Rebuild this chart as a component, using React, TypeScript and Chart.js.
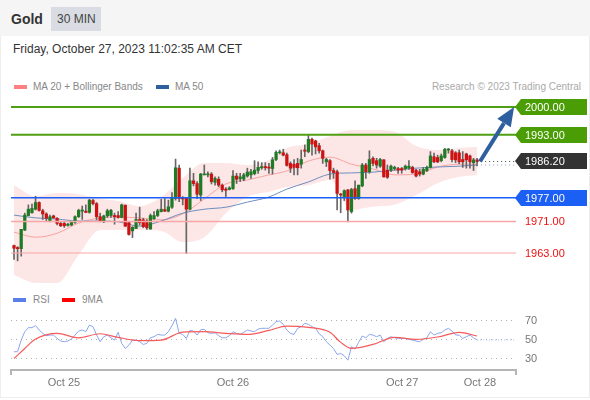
import React, { useEffect, useRef } from "react";
import { Chart, registerables } from "chart.js";

Chart.register(...registerables);

const opens = [
  1964.9, 1964.4, 1964.1, 1968.8, 1972.5, 1973.2, 1974.1, 1975.8, 1973.7, 1972.9,
  1971.2, 1972.4, 1971.8, 1970.5, 1970.5, 1970.0, 1970.1, 1970.8, 1972.2, 1973.6,
  1973.6, 1973.3, 1976.3, 1975.5, 1972.2, 1970.9, 1972.4, 1972.5, 1972.5, 1972.5,
  1972.0, 1975.1, 1970.7, 1968.6, 1969.2, 1971.5, 1971.4, 1971.1, 1969.1, 1971.7,
  1972.5, 1973.5, 1974.0, 1973.6, 1974.6, 1976.8, 1984.5, 1977.0, 1976.9, 1974.1,
  1981.3, 1980.6, 1977.7, 1982.8, 1982.8, 1983.0, 1980.9, 1981.7, 1980.2, 1979.2,
  1979.1, 1979.3, 1982.5, 1981.8, 1981.7, 1982.5, 1982.8, 1983.1, 1983.9, 1984.6,
  1984.9, 1984.8, 1984.4, 1986.7, 1988.4, 1988.4, 1987.9, 1985.7, 1985.5, 1985.7,
  1985.5, 1989.1, 1988.7, 1991.8, 1991.4, 1990.2, 1988.9, 1986.1, 1986.4, 1983.9,
  1983.6, 1977.9, 1977.3, 1979.0, 1973.5, 1979.3, 1976.8, 1980.0, 1985.3, 1983.6,
  1987.0, 1986.4, 1985.0, 1986.6, 1984.0, 1984.0, 1984.4, 1984.4,
  1984.4, 1984.4, 1984.5, 1984.7, 1984.0, 1983.6, 1983.0, 1983.9, 1984.7, 1987.4,
  1987.2, 1986.4, 1987.2, 1989.1, 1988.9, 1988.4, 1988.4, 1986.7, 1988.1, 1987.6,
  1985.9, 1986.6,
];
const closes = [
  1964.2, 1964.1, 1969.0, 1972.6, 1974.1, 1974.3, 1975.8, 1973.8, 1972.9, 1971.8,
  1972.2, 1971.9, 1970.5, 1969.9, 1969.9, 1970.3, 1970.8, 1972.2, 1973.8, 1973.9,
  1973.3, 1976.4, 1975.5, 1972.2, 1971.2, 1972.4, 1973.7, 1973.8, 1972.2, 1972.0,
  1975.2, 1969.8, 1967.7, 1969.5, 1971.5, 1970.7, 1969.7, 1969.4, 1972.5, 1972.5,
  1973.7, 1974.1, 1973.6, 1974.7, 1977.0, 1984.6, 1976.8, 1976.7, 1974.1, 1981.3,
  1980.6, 1977.9, 1983.0, 1983.0, 1983.0, 1981.1, 1981.9, 1980.2, 1979.0, 1978.9,
  1979.5, 1982.5, 1981.7, 1982.3, 1982.8, 1983.5, 1983.6, 1984.0, 1984.7, 1984.9,
  1984.6, 1984.5, 1986.6, 1988.5, 1988.6, 1987.8, 1985.2, 1984.5, 1984.7, 1984.6,
  1986.7, 1988.8, 1991.8, 1990.6, 1989.9, 1988.9, 1987.0, 1986.7, 1983.9, 1983.4,
  1978.1, 1977.7, 1978.8, 1973.9, 1979.1, 1976.8, 1980.2, 1985.3, 1983.6, 1986.7,
  1985.7, 1985.3, 1986.7, 1982.3, 1982.2, 1985.0, 1984.7, 1984.0,
  1984.0, 1985.0, 1985.0, 1983.4, 1982.5, 1983.0, 1984.2, 1984.7, 1987.6, 1986.1,
  1986.1, 1987.6, 1989.3, 1989.3, 1986.7, 1986.6, 1986.1, 1986.1, 1986.6, 1986.1,
  1986.6, 1986.2,
];
const highs = [
  1965.0, 1964.6, 1969.0, 1973.1, 1975.2, 1975.4, 1977.4, 1976.0, 1974.1, 1973.2,
  1972.6, 1972.6, 1972.0, 1970.9, 1970.9, 1970.5, 1970.9, 1972.4, 1974.1, 1974.9,
  1975.2, 1976.6, 1976.6, 1975.8, 1973.1, 1972.6, 1974.1, 1974.1, 1973.1, 1973.5,
  1975.4, 1975.2, 1970.9, 1969.7, 1973.1, 1974.6, 1971.8, 1971.5, 1972.9, 1973.5,
  1974.1, 1976.6, 1976.8, 1976.4, 1978.3, 1986.8, 1985.3, 1977.3, 1976.8, 1984.5,
  1983.2, 1981.1, 1983.2, 1985.3, 1983.6, 1983.4, 1982.3, 1982.3, 1980.5, 1979.6,
  1979.8, 1983.9, 1983.2, 1983.2, 1983.2, 1984.5, 1984.2, 1986.4, 1986.1, 1985.9,
  1985.9, 1985.7, 1987.2, 1988.9, 1989.1, 1989.3, 1988.3, 1986.1, 1986.7, 1987.0,
  1989.1, 1990.4, 1993.0, 1992.1, 1991.6, 1990.8, 1989.1, 1987.0, 1986.7, 1984.5,
  1984.0, 1978.1, 1979.0, 1979.1, 1979.4, 1981.3, 1980.2, 1985.7, 1985.7, 1988.9,
  1987.4, 1987.0, 1987.0, 1986.7, 1985.3, 1985.3, 1985.0, 1984.7,
  1984.7, 1985.3, 1986.4, 1985.0, 1984.2, 1984.2, 1984.7, 1985.0, 1988.7, 1988.3,
  1987.8, 1988.1, 1989.5, 1989.5, 1989.3, 1988.7, 1989.1, 1988.7, 1988.3, 1987.8,
  1987.0, 1987.0,
];
const lows = [
  1961.4, 1961.0, 1962.2, 1968.7, 1972.4, 1973.1, 1973.9, 1973.6, 1971.5, 1971.2,
  1970.9, 1971.8, 1970.1, 1969.7, 1969.5, 1969.8, 1969.9, 1970.5, 1972.0, 1971.5,
  1973.2, 1973.1, 1975.2, 1971.4, 1970.9, 1970.7, 1972.0, 1972.0, 1970.3, 1971.8,
  1971.9, 1969.7, 1967.5, 1966.9, 1969.2, 1970.1, 1969.4, 1969.0, 1969.0, 1971.5,
  1972.2, 1973.4, 1973.5, 1973.4, 1974.3, 1976.4, 1976.0, 1975.2, 1962.9, 1973.9,
  1980.0, 1976.8, 1976.3, 1982.8, 1982.3, 1980.5, 1980.2, 1979.8, 1978.5, 1977.3,
  1979.0, 1979.1, 1980.6, 1981.1, 1981.3, 1982.2, 1981.9, 1982.8, 1983.2, 1984.2,
  1984.0, 1983.2, 1983.0, 1986.4, 1988.1, 1987.6, 1985.0, 1983.4, 1982.8, 1982.8,
  1984.5, 1987.4, 1988.4, 1987.8, 1988.1, 1988.3, 1985.7, 1984.9, 1981.7, 1981.9,
  1973.9, 1973.2, 1976.3, 1970.9, 1973.1, 1976.6, 1976.6, 1979.8, 1981.9, 1983.2,
  1985.1, 1984.5, 1984.7, 1982.2, 1981.9, 1983.6, 1984.0, 1983.2,
  1983.2, 1984.0, 1984.2, 1983.2, 1982.3, 1982.5, 1982.8, 1983.6, 1984.5, 1985.9,
  1985.9, 1986.1, 1987.0, 1988.3, 1986.1, 1985.9, 1985.6, 1984.7, 1984.5, 1984.5,
  1983.9, 1985.1,
];

// moving averages and bands are read about every 6 bars
const bandBars = [0, 6, 12, 18, 24, 29, 35, 41, 47, 53, 59, 65, 71, 76, 82, 88, 94, 100, 106, 112, 118, 124, 129];
const bandUpper = [1980.2, 1977.4, 1978.2, 1977.9, 1976.7, 1976.2, 1974.9, 1977.2, 1982.0, 1985.8, 1985.8, 1985.3, 1986.6, 1989.6, 1990.6, 1992.6, 1994.2, 1994.2, 1993.7, 1990.1, 1989.1, 1989.6, 1989.9];
const bandLower = [1957.4, 1955.4, 1955.4, 1962.5, 1968.8, 1968.8, 1968.8, 1968.6, 1965.8, 1967.0, 1973.1, 1977.2, 1978.5, 1979.7, 1980.2, 1981.5, 1973.9, 1974.7, 1975.2, 1977.7, 1980.7, 1982.3, 1982.8];
const ma20 = [1968.3, 1967.0, 1968.0, 1970.6, 1971.9, 1972.1, 1971.9, 1971.4, 1972.9, 1976.7, 1980.5, 1981.5, 1982.8, 1983.8, 1986.3, 1987.3, 1985.5, 1984.3, 1982.8, 1983.0, 1984.8, 1985.5, 1985.5];
const ma50 = [1972.6, 1971.9, 1971.6, 1971.1, 1971.1, 1970.9, 1969.8, 1971.1, 1973.1, 1974.1, 1974.6, 1975.9, 1977.2, 1979.2, 1981.0, 1983.0, 1983.3, 1983.5, 1984.0, 1984.5, 1984.8, 1985.0, 1985.3];

const rsi = [
  37.2, 37.2, 49.6, 58.6, 62.9, 62.9, 65.0, 60.4, 56.8, 54.3,
  55, 55, 51.4, 48.6, 47.9, 48.6, 50.7, 55, 59.3, 60.4,
  58.6, 65.7, 63.9, 55, 47.9, 53.2, 55, 52.1, 49.6,
  57.9, 46.1, 40.7, 44.3, 49.6, 49.6, 47.9, 45, 46.1, 52.1,
  53.2, 55.7, 55, 55, 58.6, 65, 72.9, 56.8, 55.7, 51.4,
  60, 59.3, 55, 60.7, 61.1, 57.5, 56.8, 57.5, 54.3, 52.1,
  52.1, 54.3, 58.6, 56.8, 55.7, 57.9, 60.4, 59.3, 58.6, 61.4,
  62.2, 62.2, 62.2, 65.7, 69.3, 70,
  66.4, 60.4, 56.8, 55.7, 62.2, 63.9, 67.5, 66.4, 63.9,
  62.2, 56.4, 53.2, 47.9, 44.3, 40.7, 34.3, 35.4, 32.9, 28.2,
  42.5, 40, 47.2, 54, 52.1, 55.7, 55, 53.2, 55, 47.9,
  51.4, 53.2, 52.1, 51.4, 51.4, 51.4, 50.4, 49.6, 48.6, 47.9,
  50.7, 52.1, 58.6, 55, 56.8, 57.5, 60.4, 62.2, 59.3, 55,
  55, 51.4, 53.2, 55, 52.1, 49.8,
];
const ma9Bars = [0, 3, 6, 12, 18, 24, 29, 35, 41, 47, 53, 59, 65, 71, 76, 82, 88, 91, 94, 100, 106, 112, 118, 124, 129];
const ma9 = [30, 40.7, 50.7, 56.8, 52.1, 56.4, 52.5, 49, 49.6, 58.2, 58.6, 56.8, 55.7, 60, 64.6, 63.2, 57.9, 47.2, 40.7, 45, 52.5, 50.4, 52.9, 57.9, 54];

const xMin = -0.84;
const xMax = 139.83;
const lastBar = 129;

const dateBars = [13.9, 61, 108.1, 129.8];
const dateLabels = ["Oct 25", "Oct 26", "Oct 27", "Oct 28"];
const rsiTicks = [30, 50, 70];

const target = 2000;
const lastPrice = 1986.2;
const priceTags = [
  { value: 2000, color: "#4a9d05", text: "#fff", boxed: true },
  { value: 1993, color: "#4a9d05", text: "#fff", boxed: true },
  { value: 1986.2, color: "#333333", text: "#fff", boxed: true },
  { value: 1977, color: "#1c5ff5", text: "#fff", boxed: true },
  { value: 1971, color: "", text: "#f01010", boxed: false },
  { value: 1963, color: "", text: "#f01010", boxed: false },
];
const levelLines = [
  { value: 2000, color: "#4f9f12", width: 2 },
  { value: 1993, color: "#4f9f12", width: 2 },
  { value: 1977, color: "#1c5ff5", width: 1.4 },
  { value: 1971, color: "#f8a6a6", width: 1.4 },
  { value: 1963, color: "#f8a6a6", width: 1 },
];

const points = (bars: number[], values: number[]) => bars.map((x, i) => ({ x, y: values[i] }));
const barIdx = opens.map((_, i) => i);

// price tags, arrow and the small caps at the ends of the time axis
const overlay = {
  id: "overlay",
  afterDatasetsDraw(chart: any) {
    const { ctx, scales, chartArea } = chart;
    const y = scales.y;
    const x = scales.x;
    ctx.save();

    ctx.font = "11px 'Liberation Sans', Arial, sans-serif";
    ctx.textBaseline = "middle";
    priceTags.forEach((t) => {
      const py = Math.round(y.getPixelForValue(t.value));
      if (t.boxed) {
        ctx.fillStyle = t.color;
        ctx.beginPath();
        ctx.moveTo(515, py);
        ctx.lineTo(521, py - 8);
        ctx.lineTo(587, py - 8);
        ctx.lineTo(587, py + 8);
        ctx.lineTo(521, py + 8);
        ctx.closePath();
        ctx.fill();
      }
      ctx.fillStyle = t.text;
      ctx.fillText(t.value.toFixed(2), 525, py + 0.5);
    });

    const ax = x.getPixelForValue(129.8);
    const ay = y.getPixelForValue(lastPrice);
    const bx = x.getPixelForValue(139.3);
    const by = y.getPixelForValue(target);
    const ang = Math.atan2(by - ay, bx - ax);
    const headLen = 19;
    const neckX = bx - headLen * Math.cos(ang);
    const neckY = by - headLen * Math.sin(ang);
    ctx.strokeStyle = "#2e5f9e";
    ctx.fillStyle = "#2e5f9e";
    ctx.lineWidth = 4;
    ctx.beginPath();
    ctx.moveTo(ax, ay);
    ctx.lineTo(neckX, neckY);
    ctx.stroke();
    const nx = -Math.sin(ang);
    const ny = Math.cos(ang);
    ctx.beginPath();
    ctx.moveTo(bx, by);
    ctx.lineTo(neckX + nx * 8, neckY + ny * 8);
    ctx.lineTo(neckX - nx * 8, neckY - ny * 8);
    ctx.closePath();
    ctx.fill();

    ctx.strokeStyle = "#b5b5b5";
    ctx.lineWidth = 2;
    ctx.beginPath();
    ctx.moveTo(chartArea.left, chartArea.bottom - 1);
    ctx.lineTo(chartArea.left, chartArea.bottom + 5);
    ctx.moveTo(chartArea.right, chartArea.bottom - 1);
    ctx.lineTo(chartArea.right, chartArea.bottom + 5);
    ctx.stroke();
    ctx.restore();
  },
};

const labelStyle: React.CSSProperties = {
  position: "absolute",
  fontFamily: "'Liberation Sans', Arial, sans-serif",
  whiteSpace: "nowrap",
};

const Swatch = ({ left, top, color }: { left: number; top: number; color: string }) => (
  <div style={{ position: "absolute", left, top, width: 13, height: 4, background: color }} />
);

const Small = ({ left, top, children }: { left: number; top: number; children: React.ReactNode }) => (
  <div style={{ ...labelStyle, left, top, fontSize: 10, lineHeight: "12px", color: "#888" }}>{children}</div>
);

const App = () => {
  const canvasRef = useRef<HTMLCanvasElement>(null);

  useEffect(() => {
    if (!canvasRef.current) return;
    const level = levelLines.map((l, i) => ({
      type: "line" as const,
      data: [{ x: xMin, y: l.value }, { x: xMax, y: l.value }],
      borderColor: l.color,
      borderWidth: l.width,
      pointRadius: 0,
      yAxisID: "y",
      order: 1 + i * 0.01,
    }));
    const line = (data: any[], color: string, width: number, axis: string, order: number, extra = {}) => ({
      type: "line" as const,
      data,
      borderColor: color,
      borderWidth: width,
      pointRadius: 0,
      cubicInterpolationMode: "monotone" as const,
      yAxisID: axis,
      order,
      ...extra,
    });

    const chart = new Chart(canvasRef.current, {
      type: "bar",
      data: {
        datasets: [
          line(points(bandBars, bandUpper), "rgba(0,0,0,0)", 0, "y", 20, { fill: "+1", backgroundColor: "#fde6e6" }),
          line(points(bandBars, bandLower), "rgba(0,0,0,0)", 0, "y", 19),
          line(points(bandBars, ma20), "#f9a3a3", 1, "y", 12),
          line(points(bandBars, ma50), "#6d8fc0", 1, "y", 11),
          {
            type: "bar",
            data: barIdx.map((i) => ({ x: i, y: [lows[i], highs[i]] })),
            backgroundColor: "#666666",
            barThickness: 1,
            grouped: false,
            yAxisID: "y",
            order: 6,
          },
          {
            type: "bar",
            data: barIdx.map((i) => ({ x: i, y: [opens[i], closes[i]] })),
            backgroundColor: barIdx.map((i) => (closes[i] >= opens[i] ? "#1f7a25" : "#cc1212")),
            barThickness: 2.6,
            minBarLength: 1,
            grouped: false,
            yAxisID: "y",
            order: 5,
          },
          ...level,
          line([{ x: lastBar, y: lastPrice }, { x: xMax, y: lastPrice }], "#444444", 1, "y", 2, { borderDash: [1, 3] }),
          line([{ x: lastBar, y: ma50[ma50.length - 1] }, { x: xMax, y: ma50[ma50.length - 1] }], "#8fa6c8", 1, "y", 2, { borderDash: [1, 3] }),
          line(points(barIdx, rsi), "#8ba5ee", 1, "yRsi", 3, { cubicInterpolationMode: "default" }),
          line([{ x: lastBar, y: rsi[lastBar] }, { x: xMax, y: rsi[lastBar] }], "#a9bcf0", 1, "yRsi", 3, { borderDash: [1, 2] }),
          line(points(ma9Bars, ma9), "#f65a5a", 1.2, "yRsi", 2),
        ] as any,
      },
      options: {
        animation: false,
        responsive: false,
        events: [],
        layout: { padding: { top: 90, left: 11, right: 0, bottom: 0 } },
        plugins: { legend: { display: false }, tooltip: { enabled: false } },
        scales: {
          x: {
            type: "linear",
            min: xMin,
            max: xMax,
            offset: false,
            grid: { display: false, offset: false, tickLength: 0 },
            border: { display: true, color: "#b5b5b5", width: 2 },
            afterBuildTicks: (scale: any) => {
              scale.ticks = dateBars.map((value) => ({ value }));
            },
            afterFit: (scale: any) => {
              scale.height = 30;
            },
            ticks: {
              autoSkip: false,
              maxRotation: 0,
              padding: 6,
              color: "#777",
              font: { size: 11, family: "'Liberation Sans', Arial, sans-serif" },
              callback: (value: any) => dateLabels[dateBars.indexOf(value)],
            },
          },
          y: { display: false, min: 1933.35, max: 2004.31 },
          yRsi: {
            axis: "y",
            position: "right",
            min: 17.73,
            max: 316.4,
            afterBuildTicks: (scale: any) => {
              scale.ticks = rsiTicks.map((value) => ({ value }));
            },
            afterFit: (scale: any) => {
              scale.width = 74;
            },
            grid: { color: "#b0b0b0", drawTicks: false, lineWidth: 1 },
            border: { display: false, dash: [1, 4] },
            ticks: {
              padding: 9,
              color: "#777",
              font: { size: 11, family: "'Liberation Sans', Arial, sans-serif" },
            },
          },
        },
      } as any,
      plugins: [overlay],
    });

    return () => chart.destroy();
  }, []);

  return (
    <div style={{ position: "absolute", left: 0, top: 0, width: 590, height: 400, background: "#fff", overflow: "hidden" }}>
      <div style={{ position: "absolute", left: 0, top: 0, width: 590, height: 398, boxSizing: "border-box", border: "1px solid #eeeeee" }} />
      <div style={{ position: "absolute", left: 0, top: 0, width: 590, height: 36, background: "#f5f5f5" }} />
      <div style={{ ...labelStyle, left: 11, top: 10, fontSize: 14, lineHeight: "18px", fontWeight: 700, color: "#333" }}>Gold</div>
      <div style={{ position: "absolute", left: 51, top: 7, width: 50, height: 24, background: "#d9dce3" }} />
      <div style={{ ...labelStyle, left: 57, top: 11, fontSize: 12, lineHeight: "16px", color: "#444" }}>30 MIN</div>
      <div style={{ ...labelStyle, left: 13, top: 41, fontSize: 12, lineHeight: "16px", color: "#333" }}>
        Friday, October 27, 2023 11:02:35 AM CET
      </div>

      <Swatch left={14} top={85} color="#ff8080" />
      <Small left={33} top={81}>MA 20 + Bollinger Bands</Small>
      <Swatch left={156} top={85} color="#2e5f9e" />
      <Small left={175} top={81}>MA 50</Small>
      <div style={{ ...labelStyle, right: 9, top: 81, fontSize: 10, lineHeight: "12px", color: "#aaa" }}>
        Research © 2023 Trading Central
      </div>

      <Swatch left={13} top={298} color="#5b7fe8" />
      <Small left={33} top={294}>RSI</Small>
      <Swatch left={62} top={298} color="#ff0000" />
      <Small left={82} top={294}>9MA</Small>

      <canvas ref={canvasRef} width={590} height={400} style={{ position: "absolute", left: 0, top: 0 }} />
    </div>
  );
};

export default App;
